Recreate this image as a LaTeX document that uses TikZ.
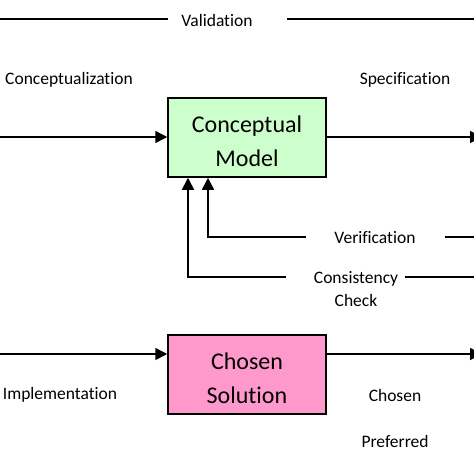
\documentclass[tikz,border=0pt]{standalone}
\usepackage{fontspec}
\setmainfont{Carlito}[Ligatures=NoCommon]
\usepackage{xcolor}
\usetikzlibrary{arrows.meta}
\usetikzlibrary{positioning}

\definecolor{modelgreen}{HTML}{CCFFCC}
\definecolor{solutionpink}{HTML}{FF99CC}

\tikzset{
	stage/.style={draw=black, line width=1.5pt, minimum width=158pt, minimum height=79pt,
		align=center, font=\fontsize{24}{34}\selectfont},
	label/.style={font=\fontsize{17.5}{23}\selectfont, inner sep=0pt, align=center},
	flow/.style={line width=1.5pt, -{Triangle[length=12pt,width=12pt]}},
	plain/.style={line width=1.5pt}
}

\begin{document}
\begin{tikzpicture}[x=1pt, y=-1pt]
	\useasboundingbox (0,0) rectangle (474,474);
	\clip (0,0) rectangle (474,474);

	\node[stage, fill=modelgreen] (model) at (247,137.5) {\rule{0pt}{25pt}Conceptual\\Model};
	\node[stage, fill=solutionpink] (solution) at (247,374.5) {\rule{0pt}{25pt}Chosen\\Solution};

	\node[label] (validation) at (217,20) {Validation};
	\node[label] (conceptualization) at (69,79.5) {Conceptualization};
	\node[label] (specification) at (405,79.5) {Specification};
	\node[label] (verification) at (375,238) {Verification};
	\node[label] (consistency) at (356,289.5) {Consistency\\Check};
	\node[label] (implementation) at (60,395) {Implementation};
	\node[label] (chosen) at (395,395) {Chosen};
	\node[label] (preferred) at (395,441) {Preferred};

	% free ends at the picture border
	\coordinate (valLeft) at (0,19);
	\coordinate (valRight) at (474,19);
	\coordinate (modelIn) at (0,137);
	\coordinate (modelOut) at (482,137);
	\coordinate (solutionIn) at (0,354);
	\coordinate (solutionOut) at (482,354);
	\coordinate (verLeft) at (306,237);
	\coordinate (verRight) at (445,237);
	\coordinate (verEnd) at (474,237);
	\coordinate (conLeft) at (286,277);
	\coordinate (conRight) at (405,277);
	\coordinate (conEnd) at (474,277);

	\draw[plain] (valLeft) -- (168,19);
	\draw[plain] (287,19) -- (valRight);

	\draw[flow] (modelIn) -- (model.west |- modelIn);
	\draw[flow] (model.east |- modelIn) -- (modelOut);
	\draw[flow] (solutionIn) -- (solution.west |- solutionIn);
	\draw[flow] (solution.east |- solutionIn) -- (solutionOut);

	\draw[flow] (verLeft) -- (208,237) -- (model.south -| 208,0);
	\draw[plain] (verRight) -- (verEnd);
	\draw[flow] (conLeft) -- (188,277) -- (model.south -| 188,0);
	\draw[plain] (conRight) -- (conEnd);
\end{tikzpicture}
\end{document}
